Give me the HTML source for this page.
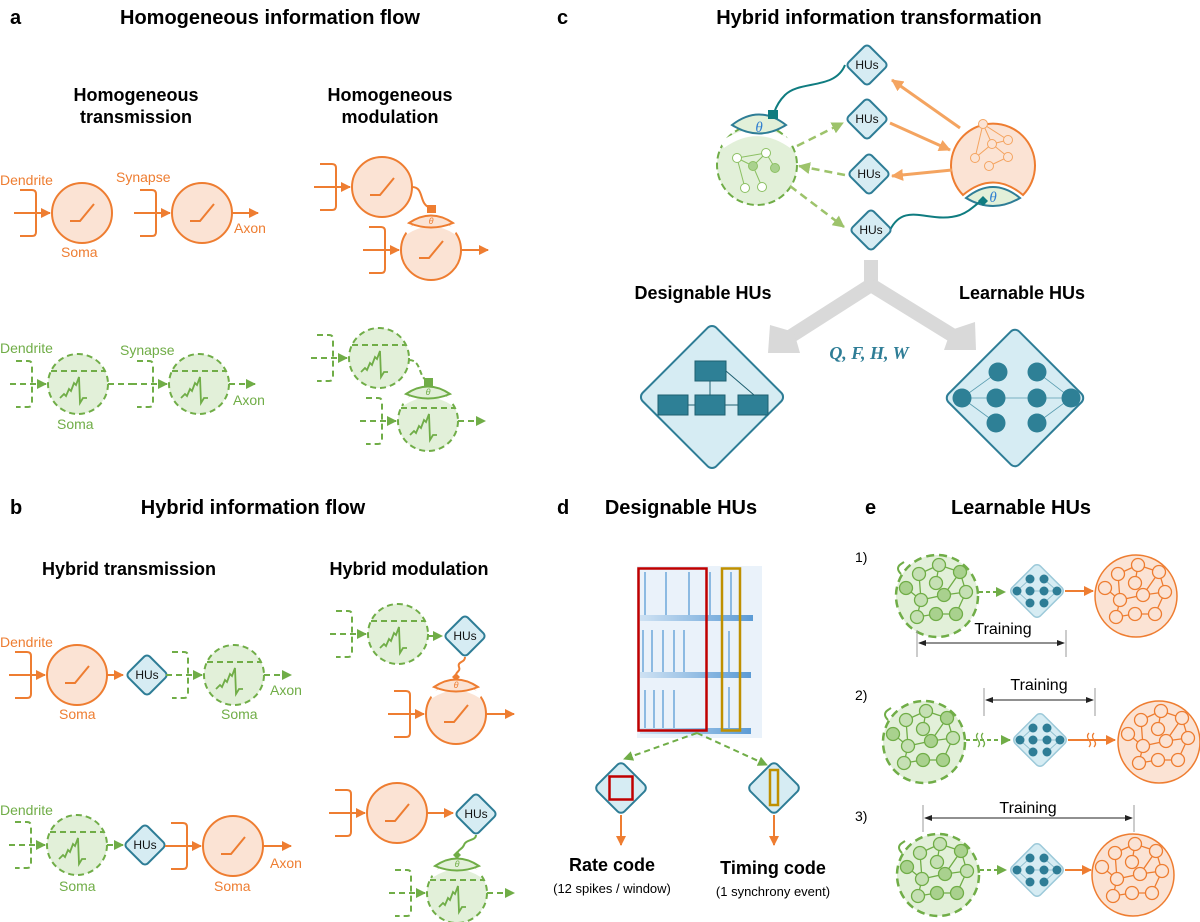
<!DOCTYPE html>
<html><head><meta charset="utf-8"><style>
html,body{margin:0;padding:0;background:#fff}
svg{display:block;font-family:"Liberation Sans",Arial,sans-serif}
.t{font-weight:bold;font-size:20px;fill:#000}
.st{font-weight:bold;font-size:18px;fill:#000}
.lo{font-size:14px;fill:#ee7d31}
.lg{font-size:14px;fill:#70ad47}
.hu{font-size:12px;fill:#111}
</style></head><body>
<svg width="1200" height="922" viewBox="0 0 1200 922" xmlns="http://www.w3.org/2000/svg">
<defs>
<marker id="mO" markerWidth="10" markerHeight="10" refX="9" refY="5" orient="auto" markerUnits="userSpaceOnUse"><path d="M0,0 L10,5 L0,10 Z" fill="#ee7d31"/></marker>
<marker id="mO2" markerWidth="12" markerHeight="12" refX="11" refY="6" orient="auto" markerUnits="userSpaceOnUse"><path d="M0,0 L12,6 L0,12 Z" fill="#f4a460"/></marker>
<marker id="mG" markerWidth="10" markerHeight="10" refX="9" refY="5" orient="auto" markerUnits="userSpaceOnUse"><path d="M0,0 L10,5 L0,10 Z" fill="#70ad47"/></marker>
<marker id="mG2" markerWidth="12" markerHeight="12" refX="11" refY="6" orient="auto" markerUnits="userSpaceOnUse"><path d="M0,0 L12,6 L0,12 Z" fill="#9dc36b"/></marker>
<marker id="mK" markerWidth="8" markerHeight="8" refX="7" refY="4" orient="auto" markerUnits="userSpaceOnUse"><path d="M0,1 L8,4 L0,7 Z" fill="#222"/></marker>
<marker id="mKs" markerWidth="8" markerHeight="8" refX="1" refY="4" orient="auto" markerUnits="userSpaceOnUse"><path d="M8,1 L0,4 L8,7 Z" fill="#222"/></marker>

<g id="on"><circle r="30" fill="#fbe3d4" stroke="#ee7d31" stroke-width="2"/><path d="M-12,8 H-2 L12,-9" stroke="#ee7d31" stroke-width="2" fill="none"/></g>
<g id="ob" fill="none" stroke="#ee7d31" stroke-width="2"><path d="M-62,-23 H-50 Q-46,-23 -46,-19 V19 Q-46,23 -50,23 H-62"/><path d="M-68,0 H-32" marker-end="url(#mO)"/></g>
<g id="gn"><circle r="30" fill="#e2f0d9" stroke="#70ad47" stroke-width="2" stroke-dasharray="6,4"/><path d="M-27,-13 H27" stroke="#70ad47" stroke-width="2" stroke-dasharray="6,4"/><path d="M-18,14 l4,-4 l2,2 l3,-7 l2,2 l3,-8 l2,2 l3,-8 l1,26 l3,-5 l4,0" stroke="#70ad47" stroke-width="1.8" fill="none"/></g>
<g id="gb" fill="none" stroke="#70ad47" stroke-width="2" stroke-dasharray="6,4"><path d="M-62,-23 H-50 Q-46,-23 -46,-19 V19 Q-46,23 -50,23 H-62"/><path d="M-68,0 H-32" marker-end="url(#mG)"/></g>
<g id="ocap"><path d="M-25,-18 Q0,-34 25,-18" stroke="#fff" stroke-width="5" fill="none"/><path d="M-22,-27 Q0,-42 22,-27 Q0,-18 -22,-27 Z" fill="#fbe3d4" stroke="#ee7d31" stroke-width="2"/><text x="0" y="-26" font-size="9" font-style="italic" fill="#ee7d31" text-anchor="middle">θ</text></g>
<g id="gcap"><path d="M-25,-18 Q0,-34 25,-18" stroke="#fff" stroke-width="5" fill="none"/><path d="M-22,-27 Q0,-42 22,-27 Q0,-18 -22,-27 Z" fill="#e2f0d9" stroke="#70ad47" stroke-width="2"/><text x="0" y="-26" font-size="9" font-style="italic" fill="#70ad47" text-anchor="middle">θ</text></g>
<g id="hu"><rect x="-15" y="-15" width="30" height="30" rx="4" transform="rotate(45)" fill="#d6ecf3" stroke="#2e7d96" stroke-width="2"/><text y="4" class="hu" text-anchor="middle">HUs</text></g>

<g id="gnet" stroke="#70ad47" stroke-width="1.3" fill="#c5e0b4">
<path d="M-18,-22 L2,-31 L-1,-13 M-18,-22 L-16,4 L-31,-8 M-16,4 L7,-1 L23,-24 L29,-4 L7,-1 M-16,4 L-20,21 L-1,18 L19,18 L29,-4 M2,-31 L23,-24" fill="none"/>
<circle cx="-31" cy="-8" r="6.5" fill="#a9d18e"/><circle cx="-18" cy="-22" r="6.5"/><circle cx="2" cy="-31" r="6.5"/><circle cx="-1" cy="-13" r="6.5"/><circle cx="23" cy="-24" r="6.5" fill="#a9d18e"/><circle cx="29" cy="-4" r="6.5"/><circle cx="7" cy="-1" r="6.5" fill="#a9d18e"/><circle cx="-16" cy="4" r="6.5"/><circle cx="-20" cy="21" r="6.5"/><circle cx="-1" cy="18" r="6.5" fill="#a9d18e"/><circle cx="19" cy="18" r="6.5" fill="#a9d18e"/>
</g>
<g id="onet" stroke="#ee7d31" stroke-width="1.3" fill="#fbe3d4">
<path d="M-18,-22 L2,-31 L-1,-13 M-18,-22 L-16,4 L-31,-8 M-16,4 L7,-1 L23,-24 L29,-4 L7,-1 M-16,4 L-20,21 L-1,18 L19,18 L29,-4 M2,-31 L23,-24" fill="none"/>
<circle cx="-31" cy="-8" r="6.5"/><circle cx="-18" cy="-22" r="6.5"/><circle cx="2" cy="-31" r="6.5"/><circle cx="-1" cy="-13" r="6.5"/><circle cx="23" cy="-24" r="6.5"/><circle cx="29" cy="-4" r="6.5"/><circle cx="7" cy="-1" r="6.5"/><circle cx="-16" cy="4" r="6.5"/><circle cx="-20" cy="21" r="6.5"/><circle cx="-1" cy="18" r="6.5"/><circle cx="19" cy="18" r="6.5"/>
</g>
<g id="gbig"><circle r="41" fill="#e2f0d9" stroke="#70ad47" stroke-width="2.5" stroke-dasharray="8,5"/><use href="#gnet"/><path d="M-36,-22 q-6,-6 0,-10 l3,-2" stroke="#70ad47" stroke-width="2" fill="none"/></g>
<g id="obig"><circle r="41" fill="#fbe3d4" stroke="#ee7d31" stroke-width="1.5"/><use href="#onet"/></g>
<g id="ld"><rect x="-20" y="-20" width="40" height="40" rx="5" transform="rotate(45)" fill="#d6ecf3" stroke="#9cc9d9" stroke-width="1.5"/>
<path d="M-20,0 L-7,-12 M-20,0 L-7,12 M-7,0 H20 M7,-12 L20,0 L7,12" stroke="#7fb4c6" stroke-width="0.8" fill="none"/>
<g fill="#2e7d96"><circle cx="-20" cy="0" r="4.5"/><circle cx="-7" cy="-12" r="4.5"/><circle cx="7" cy="-12" r="4.5"/><circle cx="-7" cy="0" r="4.5"/><circle cx="7" cy="0" r="4.5"/><circle cx="20" cy="0" r="4.5"/><circle cx="-7" cy="12" r="4.5"/><circle cx="7" cy="12" r="4.5"/></g></g>
<linearGradient id="bar" x1="0" x2="1"><stop offset="0" stop-color="#cfe2f3"/><stop offset="1" stop-color="#5b9bd5"/></linearGradient>
</defs>

<!-- Panel a -->
<text x="10" y="24" class="t">a</text>
<text x="270" y="24" class="t" text-anchor="middle">Homogeneous information flow</text>
<text x="136" y="101" class="st" text-anchor="middle">Homogeneous</text>
<text x="136" y="123" class="st" text-anchor="middle">transmission</text>
<text x="390" y="101" class="st" text-anchor="middle">Homogeneous</text>
<text x="390" y="123" class="st" text-anchor="middle">modulation</text>

<use href="#ob" x="82" y="213"/><use href="#on" x="82" y="213"/>
<use href="#ob" x="202" y="213"/><use href="#on" x="202" y="213"/>
<path d="M232,213 H258" stroke="#ee7d31" stroke-width="2" marker-end="url(#mO)"/>
<text x="0" y="185" class="lo">Dendrite</text><text x="116" y="182" class="lo">Synapse</text>
<text x="234" y="233" class="lo">Axon</text><text x="61" y="257" class="lo">Soma</text>

<use href="#ob" x="382" y="187"/><use href="#on" x="382" y="187"/>
<use href="#ob" x="431" y="250"/><use href="#on" x="431" y="250"/><use href="#ocap" x="431" y="250"/>
<path d="M461,250 H488" stroke="#ee7d31" stroke-width="2" marker-end="url(#mO)"/>
<path d="M412,187 C425,187 418,205 431,208" stroke="#ee7d31" stroke-width="2" fill="none"/>
<rect x="427" y="205" width="9" height="8" fill="#ee7d31"/>

<use href="#gb" x="78" y="384"/><use href="#gn" x="78" y="384"/>
<use href="#gb" x="199" y="384"/><use href="#gn" x="199" y="384"/>
<path d="M108,384 H134" stroke="#70ad47" stroke-width="2" stroke-dasharray="6,4"/>
<path d="M229,384 H255" stroke="#70ad47" stroke-width="2" stroke-dasharray="6,4" marker-end="url(#mG)"/>
<text x="0" y="353" class="lg">Dendrite</text><text x="120" y="355" class="lg">Synapse</text>
<text x="233" y="405" class="lg">Axon</text><text x="57" y="429" class="lg">Soma</text>

<use href="#gb" x="379" y="358"/><use href="#gn" x="379" y="358"/>
<use href="#gb" x="428" y="421"/><use href="#gn" x="428" y="421"/><use href="#gcap" x="428" y="421"/>
<path d="M458,421 H485" stroke="#70ad47" stroke-width="2" stroke-dasharray="6,4" marker-end="url(#mG)"/>
<path d="M409,360 C422,360 418,378 428,381" stroke="#70ad47" stroke-width="2" stroke-dasharray="5,3" fill="none"/>
<rect x="424" y="378" width="9" height="8" fill="#70ad47"/>

<!-- Panel b -->
<text x="10" y="514" class="t">b</text>
<text x="253" y="514" class="t" text-anchor="middle">Hybrid information flow</text>
<text x="129" y="575" class="st" text-anchor="middle">Hybrid transmission</text>
<text x="409" y="575" class="st" text-anchor="middle">Hybrid modulation</text>

<use href="#ob" x="77" y="675"/><use href="#on" x="77" y="675"/>
<path d="M107,675 H123" stroke="#ee7d31" stroke-width="2" marker-end="url(#mO)"/>
<use href="#hu" x="147" y="675"/>
<use href="#gb" x="234" y="675"/><use href="#gn" x="234" y="675"/>
<path d="M264,675 H291" stroke="#70ad47" stroke-width="2" stroke-dasharray="6,4" marker-end="url(#mG)"/>
<text x="0" y="647" class="lo">Dendrite</text><text x="270" y="695" class="lg">Axon</text>
<text x="59" y="719" class="lo">Soma</text><text x="221" y="719" class="lg">Soma</text>

<use href="#gb" x="77" y="845"/><use href="#gn" x="77" y="845"/>
<path d="M107,845 H123" stroke="#70ad47" stroke-width="2" stroke-dasharray="6,4" marker-end="url(#mG)"/>
<use href="#hu" x="145" y="845"/>
<use href="#ob" x="233" y="846"/><use href="#on" x="233" y="846"/>
<path d="M263,846 H291" stroke="#ee7d31" stroke-width="2" marker-end="url(#mO)"/>
<text x="0" y="815" class="lg">Dendrite</text><text x="270" y="868" class="lo">Axon</text>
<text x="59" y="891" class="lg">Soma</text><text x="214" y="891" class="lo">Soma</text>

<use href="#gb" x="398" y="634"/><use href="#gn" x="398" y="634"/>
<path d="M428,636 H442" stroke="#70ad47" stroke-width="2" stroke-dasharray="5,3" marker-end="url(#mG)"/>
<use href="#hu" x="465" y="636"/>
<path d="M465,657 c0,6 -8,4 -6,10 c2,5 -4,4 -3,10" stroke="#ee7d31" stroke-width="2" fill="none"/>
<path d="M456,673 l4,4 l-4,4 l-4,-4 Z" fill="#ee7d31"/>
<use href="#ob" x="456" y="714"/><use href="#on" x="456" y="714"/><use href="#ocap" x="456" y="714"/>
<path d="M486,714 H514" stroke="#ee7d31" stroke-width="2" marker-end="url(#mO)"/>

<use href="#ob" x="397" y="813"/><use href="#on" x="397" y="813"/>
<path d="M427,813 H453" stroke="#ee7d31" stroke-width="2" marker-end="url(#mO)"/>
<use href="#hu" x="476" y="814"/>
<path d="M476,835 c0,6 -10,4 -12,10 c-2,5 -6,4 -7,9" stroke="#70ad47" stroke-width="2" fill="none"/>
<path d="M457,851 l4,4 l-4,4 l-4,-4 Z" fill="#70ad47"/>
<use href="#gb" x="457" y="893"/><use href="#gn" x="457" y="893"/><use href="#gcap" x="457" y="893"/>
<path d="M487,893 H514" stroke="#70ad47" stroke-width="2" stroke-dasharray="6,4" marker-end="url(#mG)"/>

<!-- Panel c -->
<text x="557" y="24" class="t">c</text>
<text x="879" y="24" class="t" text-anchor="middle">Hybrid information transformation</text>
<circle cx="757" cy="165" r="40" fill="#e2f0d9" stroke="#70ad47" stroke-width="2" stroke-dasharray="7,4"/>
<path d="M722,145 Q757,120 792,145" stroke="#fff" stroke-width="7" fill="none"/>
<path d="M732,125 Q759,104 786,125 Q759,142 732,125 Z" fill="#e2f0d9" stroke="#2e7d96" stroke-width="2"/>
<text x="759" y="132" font-size="15" font-style="italic" fill="#2e7dd0" text-anchor="middle" font-family="Liberation Serif,serif">θ</text>
<g stroke="#8cc063" stroke-width="1" fill="#fff"><path d="M737,158 L766,153 L775,168 M737,158 L753,166 L766,153 M737,158 L745,188 M753,166 L762,187" fill="none"/>
<circle cx="737" cy="158" r="4.5"/><circle cx="766" cy="153" r="4.5"/><circle cx="753" cy="166" r="4.5" fill="#a9d18e"/><circle cx="775" cy="168" r="4.5" fill="#a9d18e"/><circle cx="745" cy="188" r="4.5"/><circle cx="762" cy="187" r="4.5"/></g>
<path d="M963,195 A42,42 0 1 1 1023,195 Q993,170 963,195 Z" fill="#fbe3d4" stroke="#ee7d31" stroke-width="2"/>
<path d="M966,198 Q993,176 1020,198 Q993,214 966,198 Z" fill="#e2f0d9" stroke="#2e7d96" stroke-width="2"/>
<text x="993" y="202" font-size="15" font-style="italic" fill="#2e7dd0" text-anchor="middle" font-family="Liberation Serif,serif">θ</text>
<g stroke="#f4a460" stroke-width="1" fill="#fbe3d4"><path d="M983,124 L1008,140 L992,144 L983,124 L975,158 L992,144 L1008,157 L989,166 M992,144 L1008,140" fill="none"/>
<circle cx="983" cy="124" r="4.5"/><circle cx="1008" cy="140" r="4.5"/><circle cx="992" cy="144" r="4.5"/><circle cx="975" cy="158" r="4.5"/><circle cx="1008" cy="157" r="4.5"/><circle cx="989" cy="166" r="4.5"/></g>
<path d="M960,128 L892,80" stroke="#f4a460" stroke-width="3" marker-end="url(#mO2)"/>
<path d="M890,123 L950,150" stroke="#f4a460" stroke-width="3" marker-end="url(#mO2)"/>
<path d="M952,170 L892,176" stroke="#f4a460" stroke-width="3" marker-end="url(#mO2)"/>
<path d="M797,146 L843,123" stroke="#9dc36b" stroke-width="2.5" stroke-dasharray="8,5" marker-end="url(#mG2)"/>
<path d="M845,175 L799,166" stroke="#9dc36b" stroke-width="2.5" stroke-dasharray="8,5" marker-end="url(#mG2)"/>
<path d="M790,186 L844,227" stroke="#9dc36b" stroke-width="2.5" stroke-dasharray="8,5" marker-end="url(#mG2)"/>
<path d="M845,65 C835,90 800,80 785,95 C777,103 775,110 774,113" stroke="#0f7c80" stroke-width="2" fill="none"/>
<rect x="768" y="110" width="10" height="9" fill="#0f7c80"/>
<path d="M890,230 C905,200 930,225 960,215 C968,212 972,208 982,200" stroke="#0f7c80" stroke-width="2" fill="none"/>
<path d="M983,196 l5,5 l-5,5 l-5,-5 Z" fill="#0f7c80"/>
<use href="#hu" x="867" y="65"/><use href="#hu" x="867" y="119"/><use href="#hu" x="869" y="174"/><use href="#hu" x="871" y="230"/>
<g fill="none" stroke="#d9d9d9" stroke-width="14"><path d="M871,260 V285 L785,340"/><path d="M871,285 L960,340"/></g>
<path d="M768,353 L800,353 L794,332 L770,325 Z" fill="#d9d9d9"/>
<path d="M976,350 L944,350 L951,330 L975,322 Z" fill="#d9d9d9"/>
<text x="703" y="299" class="st" text-anchor="middle" font-size="19">Designable HUs</text>
<text x="1022" y="299" class="st" text-anchor="middle" font-size="19">Learnable HUs</text>
<text x="869" y="359" font-family="Liberation Serif,serif" font-style="italic" font-weight="bold" font-size="18" fill="#2e7d96" text-anchor="middle">Q, F, H, W</text>
<rect x="-52" y="-52" width="104" height="104" rx="6" transform="translate(712,397) rotate(45)" fill="#d6ecf3" stroke="#2e7d96" stroke-width="2"/>
<g fill="#2e8096" stroke="#1f5f70" stroke-width="1"><path d="M710,381 V395 M688,405 H695 M725,405 H738 M726,371 L754,395" fill="none"/>
<rect x="695" y="361" width="31" height="20"/><rect x="658" y="395" width="30" height="20"/><rect x="695" y="395" width="30" height="20"/><rect x="738" y="395" width="30" height="20"/></g>
<rect x="-50" y="-50" width="100" height="100" rx="6" transform="translate(1015,398) rotate(45)" fill="#d6ecf3" stroke="#2e7d96" stroke-width="2"/>
<path d="M962,398 L998,372 M962,398 L996,423 M962,398 H1071 M1037,372 L1071,398 L1037,423" stroke="#5a9db0" stroke-width="0.8" fill="none"/>
<g fill="#2e8096"><circle cx="962" cy="398" r="9.5"/><circle cx="998" cy="372" r="9.5"/><circle cx="1037" cy="372" r="9.5"/><circle cx="996" cy="398" r="9.5"/><circle cx="1037" cy="398" r="9.5"/><circle cx="1071" cy="398" r="9.5"/><circle cx="996" cy="423" r="9.5"/><circle cx="1037" cy="423" r="9.5"/></g>

<!-- Panel d -->
<text x="557" y="514" class="t">d</text>
<text x="681" y="514" class="t" text-anchor="middle">Designable HUs</text>
<rect x="637" y="566" width="125" height="172" fill="#eaf2fa"/>
<g stroke="#5b9bd5" stroke-width="1.3">
<path d="M645,572 V618 M666,572 V618 M689,572 V618 M710,572 V618 M731,572 V618"/>
<path d="M643,630 V675 M652,630 V675 M663,630 V675 M674,630 V675 M684,630 V675 M729,631 V675"/>
<path d="M645,690 V730 M654,690 V730 M663,690 V730 M674,690 V730 M729,687 V730"/>
</g>
<rect x="640" y="615" width="113" height="6" fill="url(#bar)"/>
<rect x="640" y="672" width="111" height="6" fill="url(#bar)"/>
<rect x="640" y="728" width="111" height="6" fill="url(#bar)"/>
<rect x="638.5" y="568.5" width="68" height="162" fill="none" stroke="#c00000" stroke-width="2.5"/>
<rect x="722" y="568.5" width="18" height="162" fill="none" stroke="#bf9000" stroke-width="2.5"/>
<path d="M697,733 L624,759" stroke="#70ad47" stroke-width="2" stroke-dasharray="6,4" marker-end="url(#mG)"/>
<path d="M697,733 L767,765" stroke="#70ad47" stroke-width="2" stroke-dasharray="6,4" marker-end="url(#mG)"/>
<rect x="-19" y="-19" width="38" height="38" rx="5" transform="translate(621,788) rotate(45)" fill="#d6ecf3" stroke="#2e7d96" stroke-width="2"/>
<rect x="609.5" y="776.5" width="23" height="23" fill="none" stroke="#c00000" stroke-width="2.5"/>
<rect x="-19" y="-19" width="38" height="38" rx="5" transform="translate(774,788) rotate(45)" fill="#d6ecf3" stroke="#2e7d96" stroke-width="2"/>
<rect x="770" y="770" width="8" height="35" fill="none" stroke="#bf9000" stroke-width="2.5"/>
<path d="M621,815 V845" stroke="#ee7d31" stroke-width="2" marker-end="url(#mO)"/>
<path d="M774,815 V845" stroke="#ee7d31" stroke-width="2" marker-end="url(#mO)"/>
<text x="612" y="871" class="st" font-size="16" text-anchor="middle">Rate code</text>
<text x="612" y="893" font-size="13" text-anchor="middle">(12 spikes / window)</text>
<text x="773" y="874" class="st" font-size="16" text-anchor="middle">Timing code</text>
<text x="773" y="896" font-size="13" text-anchor="middle">(1 synchrony event)</text>

<!-- Panel e -->
<text x="865" y="514" class="t">e</text>
<text x="1021" y="514" class="t" text-anchor="middle">Learnable HUs</text>
<text x="855" y="562" font-size="14">1)</text>
<text x="855" y="700" font-size="14">2)</text>
<text x="855" y="821" font-size="14">3)</text>

<use href="#gbig" x="937" y="596"/>
<path d="M979,592 H1005" stroke="#70ad47" stroke-width="2" stroke-dasharray="4,3" marker-end="url(#mG)"/>
<use href="#ld" x="1037" y="591"/>
<path d="M1065,591 H1093" stroke="#ee7d31" stroke-width="2" marker-end="url(#mO)"/>
<use href="#obig" x="1136" y="596"/>
<text x="1003" y="634" font-size="16" text-anchor="middle">Training</text>
<path d="M917,630 V657 M1066,630 V657" stroke="#999" stroke-width="1"/>
<path d="M919,643 H1064" stroke="#222" stroke-width="1" marker-end="url(#mK)" marker-start="url(#mKs)"/>

<use href="#gbig" x="924" y="742"/>
<path d="M966,740 H1010" stroke="#70ad47" stroke-width="2" stroke-dasharray="4,3" marker-end="url(#mG)"/>
<path d="M978,733 q-3,3 0,7 q3,4 0,7 M983,733 q-3,3 0,7 q3,4 0,7" stroke="#70ad47" stroke-width="1.3" fill="none"/>
<use href="#ld" x="1040" y="740"/>
<path d="M1068,740 H1115" stroke="#ee7d31" stroke-width="2" marker-end="url(#mO)"/>
<path d="M1089,733 q-3,3 0,7 q3,4 0,7 M1094,733 q-3,3 0,7 q3,4 0,7" stroke="#ee7d31" stroke-width="1.3" fill="none"/>
<use href="#obig" x="1159" y="742"/>
<text x="1039" y="690" font-size="16" text-anchor="middle">Training</text>
<path d="M984,688 V716 M1095,688 V716" stroke="#999" stroke-width="1"/>
<path d="M986,700 H1093" stroke="#222" stroke-width="1" marker-end="url(#mK)" marker-start="url(#mKs)"/>

<use href="#gbig" x="938" y="875"/>
<path d="M980,870 H1006" stroke="#70ad47" stroke-width="2" stroke-dasharray="4,3" marker-end="url(#mG)"/>
<use href="#ld" x="1037" y="870"/>
<path d="M1065,870 H1091" stroke="#ee7d31" stroke-width="2" marker-end="url(#mO)"/>
<use href="#obig" x="1133" y="875"/>
<text x="1028" y="813" font-size="16" text-anchor="middle">Training</text>
<path d="M923,805 V832 M1134,805 V832" stroke="#999" stroke-width="1"/>
<path d="M925,818 H1132" stroke="#222" stroke-width="1" marker-end="url(#mK)" marker-start="url(#mKs)"/>
</svg>
</body></html>
